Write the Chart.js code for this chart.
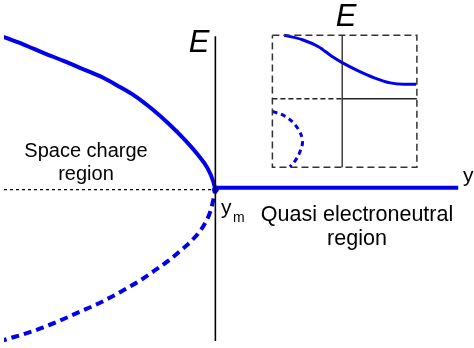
<!DOCTYPE html>
<html>
<head>
<meta charset="utf-8">
<script src="https://cdn.jsdelivr.net/npm/chart.js@4"></script>
<style>
  html, body { margin: 0; padding: 0; background: #fff; }
  #wrap { width: 474px; height: 348px; position: relative; }
</style>
</head>
<body>
<div id="wrap"><canvas id="fieldChart"></canvas></div>
<script>
// main plot: position y (ym = 0) against field E
const spaceChargeY = [-2.2, -2.15, -1.95, -1.75, -1.55, -1.35, -1.15, -0.97, -0.82, -0.65, -0.48, -0.32, -0.18, -0.08, -0.02, 0];
const spaceChargeE = [1.58, 1.56, 1.485, 1.40, 1.32, 1.235, 1.15, 1.05, 0.96, 0.83, 0.68, 0.52, 0.36, 0.22, 0.08, 0];
const branchY = [-2.2, -2.15, -1.95, -1.75, -1.58, -1.38, -1.22, -1.08, -0.90, -0.75, -0.62, -0.48, -0.35, -0.23, -0.12, -0.05, -0.02, 0];
const branchE = [-1.56, -1.54, -1.48, -1.41, -1.34, -1.25, -1.18, -1.11, -1.01, -0.92, -0.83, -0.73, -0.62, -0.51, -0.37, -0.22, -0.10, 0];
const neutralY = [0, 2.47];
const neutralE = [0.02, 0.02];
const axisTop = 1.57, axisBottom = -1.55;

// inset plot
const insetTopX = [-0.83, -0.57, -0.34, -0.15, 0.0, 0.23, 0.46, 0.69, 0.88, 1.06];
const insetTopE = [1.0, 0.93, 0.82, 0.67, 0.57, 0.44, 0.33, 0.25, 0.23, 0.23];
const insetLoopX = [-1.0, -0.81, -0.64, -0.57, -0.60, -0.67, -0.75];
const insetLoopE = [-0.2, -0.28, -0.46, -0.66, -0.82, -0.97, -1.07];
const insetBoxX = [-1, 1.07];
const insetBoxE = [-1.08, 1];

const blue = 'rgb(0, 0, 235)';
const font = '"Liberation Sans", Arial, Helvetica, sans-serif';

function pts(xs, ys) {
    return xs.map((x, i) => ({ x: x, y: ys[i] }));
}

const box = [
    { x: insetBoxX[0], y: insetBoxE[1] }, { x: insetBoxX[1], y: insetBoxE[1] },
    { x: insetBoxX[1], y: insetBoxE[0] }, { x: insetBoxX[0], y: insetBoxE[0] },
    { x: insetBoxX[0], y: insetBoxE[1] }
];

const labelsPlugin = {
    id: 'labels',
    afterDraw(chart) {
        const c = chart.ctx;
        c.save();
        c.fillStyle = '#000';
        c.textAlign = 'center';
        c.textBaseline = 'alphabetic';
        c.font = '20px ' + font;
        c.fillText('Space charge', 86, 157);
        c.fillText('region', 86, 180);
        c.font = '21.5px ' + font;
        c.fillText('Quasi electroneutral', 357, 221);
        c.fillText('region', 357, 245);
        c.font = 'italic 31px ' + font;
        c.fillText('E', 199, 52);
        c.fillText('E', 346, 26);
        c.textAlign = 'left';
        c.font = '21px ' + font;
        c.fillText('y', 463, 182);
        c.fillText('y', 221, 214);
        c.font = '14px ' + font;
        c.fillText('m', 233, 222);
        c.restore();
    }
};

const ctx = document.getElementById('fieldChart').getContext('2d');
new Chart(ctx, {
    type: 'scatter',
    data: {
        datasets: [
            {
                data: [{ x: -2.15, y: 0 }, { x: 0, y: 0 }],
                borderColor: '#000', borderWidth: 1.3, borderDash: [3, 3]
            },
            {
                data: [{ x: 0, y: axisTop }, { x: 0, y: axisBottom }],
                borderColor: '#000', borderWidth: 1.6
            },
            {
                data: pts(spaceChargeY, spaceChargeE),
                borderColor: blue, borderWidth: 4, cubicInterpolationMode: 'monotone'
            },
            {
                data: pts(branchY, branchE),
                borderColor: blue, borderWidth: 4, cubicInterpolationMode: 'monotone', borderDash: [8, 5]
            },
            {
                data: pts(neutralY, neutralE),
                borderColor: blue, borderWidth: 4
            },
            {
                data: [{ x: 0, y: 0 }],
                showLine: false, pointRadius: 3, backgroundColor: blue, borderColor: blue
            },
            // inset
            {
                data: box, xAxisID: 'x2', yAxisID: 'y2',
                borderColor: '#333', borderWidth: 1.5, borderDash: [7, 4]
            },
            {
                data: [{ x: 0, y: insetBoxE[1] }, { x: 0, y: insetBoxE[0] }], xAxisID: 'x2', yAxisID: 'y2',
                borderColor: '#222', borderWidth: 1.3
            },
            {
                data: [{ x: insetBoxX[0], y: 0 }, { x: 0, y: 0 }], xAxisID: 'x2', yAxisID: 'y2',
                borderColor: '#222', borderWidth: 1.3, borderDash: [5, 3]
            },
            {
                data: [{ x: 0, y: 0 }, { x: insetBoxX[1], y: 0 }], xAxisID: 'x2', yAxisID: 'y2',
                borderColor: '#222', borderWidth: 1.3
            },
            {
                data: pts(insetTopX, insetTopE), xAxisID: 'x2', yAxisID: 'y2',
                borderColor: blue, borderWidth: 3, cubicInterpolationMode: 'monotone'
            },
            {
                data: pts(insetLoopX, insetLoopE), xAxisID: 'x2', yAxisID: 'y2',
                borderColor: blue, borderWidth: 3, tension: 0.4, borderDash: [5, 4]
            }
        ]
    },
    options: {
        responsive: true,
        maintainAspectRatio: false,
        animation: false,
        layout: { padding: 0 },
        elements: {
            point: { radius: 0, hoverRadius: 0 },
            line: { fill: false }
        },
        datasets: { scatter: { showLine: true } },
        scales: {
            x: { type: 'linear', display: false, min: -2.15, max: 2.59 },
            y: { type: 'linear', display: false, min: -1.58, max: 1.90 },
            x2: { type: 'linear', display: false, min: -344 / 71, max: 130 / 71 },
            y2: { type: 'linear', display: false, min: -251 / 65, max: 97 / 65 }
        },
        plugins: {
            legend: { display: false },
            tooltip: { enabled: false }
        }
    },
    plugins: [labelsPlugin]
});
</script>
</body>
</html>
